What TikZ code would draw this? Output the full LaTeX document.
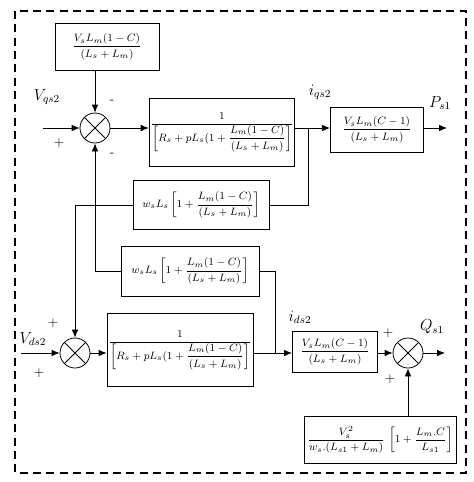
\documentclass[tikz,border=0pt]{standalone}
\usepackage{amsmath}
\usetikzlibrary{arrows.meta}
\begin{document}
\begin{tikzpicture}[
    x=0.75pt, y=-0.75pt,
    font=\footnotesize,
    block/.style={rectangle, draw=black, semithick, inner sep=1pt, text centered},
    sumnode/.style={circle, draw=black, semithick, minimum size=22.5pt, inner sep=0pt,
        path picture={\draw[semithick] (path picture bounding box.north west) -- (path picture bounding box.south east)
                                       (path picture bounding box.north east) -- (path picture bounding box.south west);}},
    arrow/.style={semithick, -{Latex[length=6pt,width=5pt]}},
    line/.style={semithick},
    sig/.style={font=\normalsize},
    lbl/.style={font=\large},
    frame/.style={thick, dash pattern=on 6pt off 4pt}
]
\useasboundingbox (0,0) rectangle (474,482);

% --- Nodes ---
% Upper path (q axis)
\node (const1) at (107,47) [block, minimum width=78pt, minimum height=35pt] {$\dfrac{V_s L_m(1-C)}{(L_s+L_m)}$};
\node (sum1) at (95,128) [sumnode] {};
\node (block1) at (222,132) [block, minimum width=105pt, minimum height=51pt] {$\dfrac{1}{\left[R_s+pL_s(1+\dfrac{L_m(1-C)}{(L_s+L_m)}\right]}$};
\node (pbox) at (377,130) [block, minimum width=70pt, minimum height=34pt] {$\dfrac{V_s L_m(C-1)}{(L_s+L_m)}$};

% Cross coupling
\node (wsls1) at (201,205) [block, minimum width=102pt, minimum height=37pt] {$w_s L_s\left[1+\dfrac{L_m(1-C)}{(L_s+L_m)}\right]$};
\node (wsls2) at (190,271) [block, minimum width=103.5pt, minimum height=37.5pt] {$w_s L_s\left[1+\dfrac{L_m(1-C)}{(L_s+L_m)}\right]$};

% Lower path (d axis)
\node (sum2) at (75,353) [sumnode] {};
\node (block2) at (180,350) [block, minimum width=109.5pt, minimum height=55pt] {$\dfrac{1}{\left[R_s+pL_s(1+\dfrac{L_m(1-C)}{(L_s+L_m)}\right]}$};
\node (qbox) at (335,352) [block, minimum width=64pt, minimum height=31pt] {$\dfrac{V_s L_m(C-1)}{(L_s+L_m)}$};
\node (sum3) at (408,353) [sumnode] {};
\node (bbox) at (380,440) [block, minimum width=114pt, minimum height=35pt] {$\dfrac{V_s^2}{w_s.(L_{s1}+L_m)}\,\left[1+\dfrac{L_m.C}{L_{s1}}\right]$};

% Free ends and junctions
\coordinate (qin) at (43,128);
\coordinate (jq) at (308,128);
\coordinate (pout) at (447,128);
\coordinate (din) at (21,353);
\coordinate (jd) at (275,353);
\coordinate (qout) at (445,353);

% --- Labels ---
\node [lbl] at (47,97) {$V_{qs2}$};
\node [sig] at (112,102) {-};
\node [sig] at (112,155) {-};
\node [sig] at (59,143) {+};
\node [lbl] at (320,92) {$i_{qs2}$};
\node [lbl] at (440,103) {$P_{s1}$};
\node [lbl] at (33,339) {$V_{ds2}$};
\node [sig] at (53,323) {+};
\node [sig] at (39,373) {+};
\node [lbl] at (300,317) {$i_{ds2}$};
\node [sig] at (388,333) {+};
\node [sig] at (390,379) {+};
\node [lbl] at (432,327) {$Q_{s1}$};

% --- Edges ---
\draw [arrow] (qin) -- (sum1);
\draw [arrow] (const1.south -| sum1) -- (sum1);
\draw [arrow] (sum1) -- (sum1 -| block1.west);
\draw [line] (sum1 -| block1.east) -- (jq);
\draw [arrow] (jq) -- (jq -| pbox.west);
\draw [arrow] (jq -| pbox.east) -- (pout);

% Cross coupling loops
\draw [line] (jq) |- (wsls1);
\draw [arrow] (wsls1) -| (sum2);
\draw [arrow] (wsls2) -| (sum1);
\draw [line] (wsls2) -| (jd);

\draw [arrow] (din) -- (sum2);
\draw [arrow] (sum2) -- (sum2 -| block2.west);
\draw [line] (sum2 -| block2.east) -- (jd);
\draw [arrow] (jd) -- (jd -| qbox.west);
\draw [arrow] (jd -| qbox.east) -- (sum3);
\draw [arrow] (sum3) -- (qout);
\draw [arrow] (bbox.north -| sum3) -- (sum3);

% Outer frame
\draw [frame] (15,11) rectangle (466,473);

\end{tikzpicture}
\end{document}
